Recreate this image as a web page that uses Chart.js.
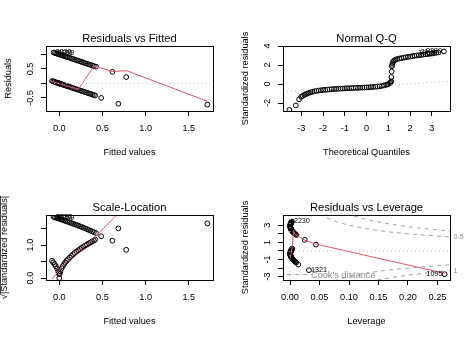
<!DOCTYPE html>
<html>
<head>
<meta charset="utf-8">
<script src="https://cdn.jsdelivr.net/npm/chart.js@4.4.1/dist/chart.umd.min.js"></script>
<style>
  html, body { margin: 0; padding: 0; background: #fff; }
  #wrap { position: relative; width: 474px; height: 338px; }
  #wrap canvas { position: absolute; }
</style>
</head>
<body>
<div id="wrap">
  <canvas id="c1" width="237" height="169" style="left:0;top:0"></canvas>
  <canvas id="c2" width="237" height="169" style="left:237px;top:0"></canvas>
  <canvas id="c3" width="237" height="169" style="left:0;top:169px"></canvas>
  <canvas id="c4" width="237" height="169" style="left:237px;top:169px"></canvas>
</div>
<script>
// observations with response 1 (upper band)
const fitUpper = [-0.066, -0.05, -0.035, -0.02, -0.005, 0.01, 0.025, 0.04, 0.055, 0.07, 0.085, 0.1, 0.12, 0.14, 0.16, 0.18, 0.2, 0.22, 0.24, 0.26, 0.28, 0.3, 0.32, 0.34, 0.36, 0.38, 0.4, 0.425];
const resUpper = [1.066, 1.05, 1.035, 1.02, 1.005, 0.99, 0.975, 0.96, 0.945, 0.93, 0.915, 0.9, 0.88, 0.86, 0.84, 0.82, 0.8, 0.78, 0.76, 0.74, 0.72, 0.7, 0.68, 0.66, 0.64, 0.62, 0.6, 0.575];
const sqrtUpper = [1.854, 1.84, 1.827, 1.814, 1.801, 1.787, 1.773, 1.76, 1.746, 1.732, 1.718, 1.704, 1.685, 1.666, 1.646, 1.626, 1.607, 1.586, 1.566, 1.545, 1.524, 1.503, 1.481, 1.459, 1.437, 1.414, 1.391, 1.362];
const levUpper = [0.00315, 0.00265, 0.00222, 0.00184, 0.0015, 0.00121, 0.00096, 0.00076, 0.0006, 0.00049, 0.00042, 0.0004, 0.00044, 0.00056, 0.00076, 0.00104, 0.0014, 0.00184, 0.00236, 0.00295, 0.00363, 0.00439, 0.00523, 0.00615, 0.00715, 0.00822, 0.00938, 0.01094];
const stdUpper = [3.439, 3.387, 3.339, 3.29, 3.242, 3.194, 3.145, 3.097, 3.048, 3.0, 2.952, 2.903, 2.839, 2.774, 2.71, 2.645, 2.581, 2.516, 2.452, 2.387, 2.323, 2.258, 2.194, 2.129, 2.065, 2.0, 1.935, 1.855];

// observations with response 0 (lower band)
const fitLower = [-0.084, -0.07, -0.055, -0.04, -0.025, -0.012, -0.005, 0.0, 0.005, 0.012, 0.025, 0.04, 0.055, 0.07, 0.085, 0.1, 0.12, 0.14, 0.16, 0.18, 0.2, 0.22, 0.24, 0.26, 0.28, 0.3, 0.32, 0.34, 0.36, 0.38, 0.4, 0.415];
const resLower = [0.084, 0.07, 0.055, 0.04, 0.025, 0.012, 0.005, 0.0, -0.005, -0.012, -0.025, -0.04, -0.055, -0.07, -0.085, -0.1, -0.12, -0.14, -0.16, -0.18, -0.2, -0.22, -0.24, -0.26, -0.28, -0.3, -0.32, -0.34, -0.36, -0.38, -0.4, -0.415];
const sqrtLower = [0.521, 0.475, 0.421, 0.359, 0.285, 0.197, 0.127, 0.0, 0.127, 0.197, 0.285, 0.359, 0.421, 0.475, 0.523, 0.568, 0.622, 0.672, 0.718, 0.762, 0.803, 0.843, 0.88, 0.916, 0.95, 0.984, 1.016, 1.047, 1.077, 1.107, 1.136, 1.163];
const levLower = [0.00378, 0.00328, 0.0028, 0.00236, 0.00196, 0.00165, 0.0015, 0.0014, 0.0013, 0.00117, 0.00096, 0.00076, 0.0006, 0.00049, 0.00042, 0.0004, 0.00044, 0.00056, 0.00076, 0.00104, 0.0014, 0.00184, 0.00236, 0.00295, 0.00363, 0.00439, 0.00523, 0.00615, 0.00715, 0.00822, 0.00938, 0.0103];
const stdLower = [0.271, 0.226, 0.177, 0.129, 0.081, 0.039, 0.016, 0.0, -0.016, -0.039, -0.081, -0.129, -0.177, -0.226, -0.274, -0.323, -0.387, -0.452, -0.516, -0.581, -0.645, -0.71, -0.774, -0.839, -0.903, -0.968, -1.032, -1.097, -1.161, -1.226, -1.29, -1.352];

// the few isolated observations
const fitOther = [0.485, 0.615, 0.684, 0.775, 1.715];
const resOther = [-0.5, 0.4, -0.7, 0.22, -0.73];
const sqrtOther = [1.265, 1.13, 1.505, 0.855, 1.655];
const levOther = [0.014, 0.025, 0.032, 0.044, 0.262];
const stdOther = [-1.6, 1.3, -2.25, 0.74, -2.72];

// normal Q-Q
const qqTheo = [-3.55, -3.25, -3.1, -3.0, -2.93, -2.86, -2.79, -2.72, -2.65, -2.57, -2.49, -2.4, -2.3, -2.2, -2.1, -2.0, -1.9, -1.8, -1.7, -1.6, -1.5, -1.4, -1.3, -1.2, -1.1, -1.0, -0.9, -0.8, -0.7, -0.6, -0.5, -0.4, -0.3, -0.2, -0.1, 0.0, 0.1, 0.2, 0.3, 0.4, 0.5, 0.6, 0.7, 0.8, 0.9, 0.97, 1.03, 1.08, 1.11, 1.13, 1.14, 1.15, 1.16, 1.17, 1.19, 1.22, 1.27, 1.33, 1.4, 1.5, 1.6, 1.7, 1.8, 1.9, 2.0, 2.1, 2.2, 2.3, 2.4, 2.5, 2.6, 2.7, 2.8, 2.9, 3.0, 3.1, 3.2, 3.3, 3.55];
const qqStd = [-2.72, -2.25, -1.6, -1.35, -1.24, -1.14, -1.06, -0.99, -0.93, -0.87, -0.82, -0.77, -0.73, -0.69, -0.66, -0.63, -0.61, -0.59, -0.57, -0.55, -0.53, -0.52, -0.5, -0.49, -0.48, -0.46, -0.45, -0.44, -0.43, -0.42, -0.41, -0.4, -0.39, -0.38, -0.37, -0.36, -0.35, -0.33, -0.31, -0.29, -0.27, -0.24, -0.2, -0.15, -0.09, -0.03, 0.04, 0.12, 0.2, 0.27, 0.73, 1.31, 1.86, 2.0, 2.2, 2.35, 2.47, 2.55, 2.62, 2.68, 2.73, 2.77, 2.81, 2.85, 2.89, 2.93, 2.97, 3.0, 3.03, 3.06, 3.09, 3.12, 3.15, 3.18, 3.21, 3.25, 3.29, 3.33, 3.42];
const qqLineX = [-3.84, 3.83];
const qqLineY = [-0.81, 0.28];

// smoothers
const smoothFitX = [-0.084, 0.0, 0.1, 0.22, 0.3, 0.4, 0.62, 0.78, 1.72];
const smoothFitY = [0.07, -0.01, -0.1, -0.2, 0.15, 0.6, 0.41, 0.44, -0.62];
const smoothSlX = [-0.084, 0.0, 0.08, 0.165, 0.24, 0.32, 0.42, 0.55, 0.665, 0.85];
const smoothSlY = [-0.03, 0.24, 0.48, 0.7, 0.86, 1.02, 1.27, 1.6, 1.91, 2.4];
const smoothLevX = [0.0004, 0.002, 0.004, 0.006, 0.009, 0.025, 0.044, 0.262];
const smoothLevY = [-0.8, -0.3, 0.6, 2.4, 1.9, 1.25, 0.8, -2.62];

// Cook's distance contours (0.5 and 1)
const cookH = [0.04, 0.05, 0.06, 0.07, 0.08, 0.09, 0.1, 0.125, 0.15, 0.175, 0.2, 0.225, 0.25, 0.271];
const cook05 = [4.899, 4.359, 3.958, 3.645, 3.391, 3.18, 3.0, 2.646, 2.38, 2.171, 2.0, 1.856, 1.732, 1.64];
const cook1 = [6.928, 6.164, 5.598, 5.155, 4.796, 4.497, 4.243, 3.742, 3.367, 3.071, 2.828, 2.625, 2.449, 2.319];

// tick values and labels
const fitTicks = [0, 0.5, 1, 1.5];
const fitTickLabels = ['0.0', '0.5', '1.0', '1.5'];
const resTicks = [-0.5, 0, 0.5, 1];
const resTickLabels = ['-0.5', '', '0.5', ''];
const qqXTicks = [-3, -2, -1, 0, 1, 2, 3];
const qqXTickLabels = ['-3', '-2', '-1', '0', '1', '2', '3'];
const qqYTicks = [-2, 0, 2, 4];
const qqYTickLabels = ['-2', '0', '2', '4'];
const slTicks = [0, 0.5, 1, 1.5];
const slTickLabels = ['0.0', '', '1.0', ''];
const levXTicks = [0, 0.05, 0.1, 0.15, 0.2, 0.25];
const levXTickLabels = ['0.00', '0.05', '0.10', '0.15', '0.20', '0.25'];
const levYTicks = [-3, -2, -1, 0, 1, 2, 3];
const levYTickLabels = ['-3', '', '-1', '', '1', '', '3'];

const idTop = ['2230', '2191', '1959'];
const idLev = ['2230', '1321', '1095'];

const FONT = '"Liberation Sans", Arial, Helvetica, sans-serif';
const RED = '#DF536B';
const GRAY = '#BEBEBE';
Chart.defaults.font.family = FONT;
Chart.defaults.color = '#000';

function pts(xs, ys) {
  return xs.map((x, i) => ({ x: x, y: ys[i] }));
}

function points(xs, ys) {
  return { data: pts(xs, ys), showLine: false, borderColor: '#000', backgroundColor: 'rgba(0,0,0,0)', borderWidth: 1, pointRadius: 2.4 };
}

function line(xs, ys, color, dash) {
  return { data: pts(xs, ys), showLine: true, borderColor: color, borderWidth: 1, borderDash: dash || [], pointRadius: 0, clip: 0 };
}

function axis(lo, hi, vals, labels, isY, pad) {
  return {
    type: 'linear', min: lo, max: hi,
    afterBuildTicks: s => { s.ticks = vals.map(v => ({ value: v })); },
    afterFit: s => { if (isY) s.width = 46; else s.height = 58; },
    grid: { display: true, drawOnChartArea: false, drawTicks: true, tickLength: 5, tickColor: '#000', tickWidth: 1 },
    border: { display: false },
    ticks: isY
      ? { autoSkip: false, minRotation: 90, maxRotation: 90, crossAlign: 'center', padding: pad, font: { size: 9.2 }, callback: (v, i) => labels[i] }
      : { autoSkip: false, maxRotation: 0, minRotation: 0, padding: 7, font: { size: 9.2 }, callback: (v, i) => labels[i] }
  };
}

// box, captions, axis titles and point ids, drawn the way R's plot.lm does
function decor(cfg) {
  return {
    id: 'rdecor',
    afterDraw(chart) {
      const ctx = chart.ctx, a = chart.chartArea;
      const sx = chart.scales.x, sy = chart.scales.y;
      const cx = (a.left + a.right) / 2, cy = (a.top + a.bottom) / 2;
      ctx.save();
      ctx.strokeStyle = '#000';
      ctx.lineWidth = 1;
      ctx.setLineDash([]);
      ctx.strokeRect(a.left + 0.5, a.top + 0.5, a.right - a.left, a.bottom - a.top);

      ctx.fillStyle = '#000';
      ctx.textAlign = 'center';
      ctx.textBaseline = 'alphabetic';
      ctx.font = '11.2px ' + FONT;
      ctx.fillText(cfg.title, cx, 41.5);
      ctx.font = '9.2px ' + FONT;
      ctx.fillText(cfg.xLabel, cx, 155);

      ctx.save();
      ctx.translate(cfg.yLabelX, cy);
      ctx.rotate(-Math.PI / 2);
      ctx.fillText(cfg.yLabel, 0, 0);
      if (cfg.radical) {
        const w = ctx.measureText(cfg.yLabel).width;
        const r = ctx.measureText('\u221A').width;
        ctx.beginPath();
        ctx.moveTo(-w / 2 + r - 0.5, -cfg.yLabelX + 0.5);
        ctx.lineTo(w / 2, -cfg.yLabelX + 0.5);
        ctx.strokeStyle = '#444';
        ctx.stroke();
      }
      ctx.restore();

      ctx.font = '7.2px ' + FONT;
      ctx.textBaseline = 'middle';
      cfg.ids.forEach(l => {
        ctx.textAlign = l.right ? 'left' : 'right';
        ctx.fillText(l.text, sx.getPixelForValue(l.x) + (l.right ? 2 : -2), sy.getPixelForValue(l.y));
      });

      if (cfg.cook) {
        ctx.fillStyle = '#8C8C8C';
        ctx.textAlign = 'left';
        ctx.fillText('0.5', a.right + 3.5, sy.getPixelForValue(cook05[cook05.length - 1]));
        ctx.fillText('1', a.right + 3.5, sy.getPixelForValue(-cook1[cook1.length - 1]));
        ctx.strokeStyle = '#A0A0A0';
        ctx.setLineDash([4, 4]);
        ctx.beginPath();
        ctx.moveTo(a.left + 4, a.bottom - 5.5);
        ctx.lineTo(a.left + 25, a.bottom - 5.5);
        ctx.stroke();
        ctx.font = '9.2px ' + FONT;
        ctx.fillText("Cook's distance", a.left + 28, a.bottom - 5);
      }
      ctx.restore();
    }
  };
}

function makePanel(id, datasets, xAxis, yAxis, deco) {
  return new Chart(document.getElementById(id), {
    type: 'scatter',
    data: { datasets: datasets },
    options: {
      responsive: false, animation: false, devicePixelRatio: 1, events: [],
      layout: { padding: { left: 0, top: 46, right: 24, bottom: 0 } },
      plugins: { legend: { display: false }, tooltip: { enabled: false } },
      scales: { x: xAxis, y: yAxis }
    },
    plugins: [decor(deco)]
  });
}

const fitAll = fitUpper.concat(fitLower, fitOther);
const fitMin = -0.154, fitMax = 1.78;

// Residuals vs Fitted
makePanel('c1', [
  line([fitMin, fitMax], [0, 0], GRAY, [1, 3]),
  line(smoothFitX, smoothFitY, RED),
  points(fitAll, resUpper.concat(resLower, resOther))
], axis(fitMin, fitMax, fitTicks, fitTickLabels, false),
   axis(-0.95, 1.29, resTicks, resTickLabels, true, 2.6),
{
  title: 'Residuals vs Fitted', xLabel: 'Fitted values', yLabel: 'Residuals', yLabelX: 11.3,
  ids: idTop.map((t, i) => ({ text: t, x: fitUpper[i], y: resUpper[i], right: true }))
});

// Normal Q-Q
const nq = qqTheo.length;
makePanel('c2', [
  line(qqLineX, qqLineY, GRAY, [1, 3]),
  points(qqTheo, qqStd)
], axis(-3.84, 3.83, qqXTicks, qqXTickLabels, false),
   axis(-2.84, 4.0, qqYTicks, qqYTickLabels, true, 6.4),
{
  title: 'Normal Q-Q', xLabel: 'Theoretical Quantiles', yLabel: 'Standardized residuals', yLabelX: 11.3,
  ids: idTop.map((t, i) => ({ text: t, x: qqTheo[nq - 1 - i], y: qqStd[nq - 1 - i], right: false }))
});

// Scale-Location
makePanel('c3', [
  line(smoothSlX, smoothSlY, RED),
  points(fitAll, sqrtUpper.concat(sqrtLower, sqrtOther))
], axis(fitMin, fitMax, fitTicks, fitTickLabels, false),
   axis(-0.06, 1.91, slTicks, slTickLabels, true, 4.1),
{
  title: 'Scale-Location', xLabel: 'Fitted values', yLabel: '\u221A|Standardized residuals|', yLabelX: 6.8, radical: true,
  ids: idTop.map((t, i) => ({ text: t, x: fitUpper[i], y: sqrtUpper[i], right: true }))
});

// Residuals vs Leverage
const levMin = -0.0119, levMax = 0.2712, rMin = -3.4, rMax = 4.2;
makePanel('c4', [
  line(cookH, cook05, '#A0A0A0', [4, 4]),
  line(cookH, cook05.map(v => -v), '#A0A0A0', [4, 4]),
  line(cookH, cook1, '#A0A0A0', [4, 4]),
  line(cookH, cook1.map(v => -v), '#A0A0A0', [4, 4]),
  line([levMin, levMax], [0, 0], GRAY, [1, 3]),
  line([0, 0], [rMin, rMax], GRAY, [1, 3]),
  line(smoothLevX, smoothLevY, RED),
  points(levUpper.concat(levLower, levOther), stdUpper.concat(stdLower, stdOther))
], axis(levMin, levMax, levXTicks, levXTickLabels, false),
   axis(rMin, rMax, levYTicks, levYTickLabels, true, 6.4),
{
  title: 'Residuals vs Leverage', xLabel: 'Leverage', yLabel: 'Standardized residuals', yLabelX: 11.3, cook: true,
  ids: [
    { text: idLev[0], x: levUpper[0], y: stdUpper[0], right: true },
    { text: idLev[1], x: levOther[2], y: stdOther[2], right: true },
    { text: idLev[2], x: levOther[4], y: stdOther[4], right: false }
  ]
});
</script>
</body>
</html>
